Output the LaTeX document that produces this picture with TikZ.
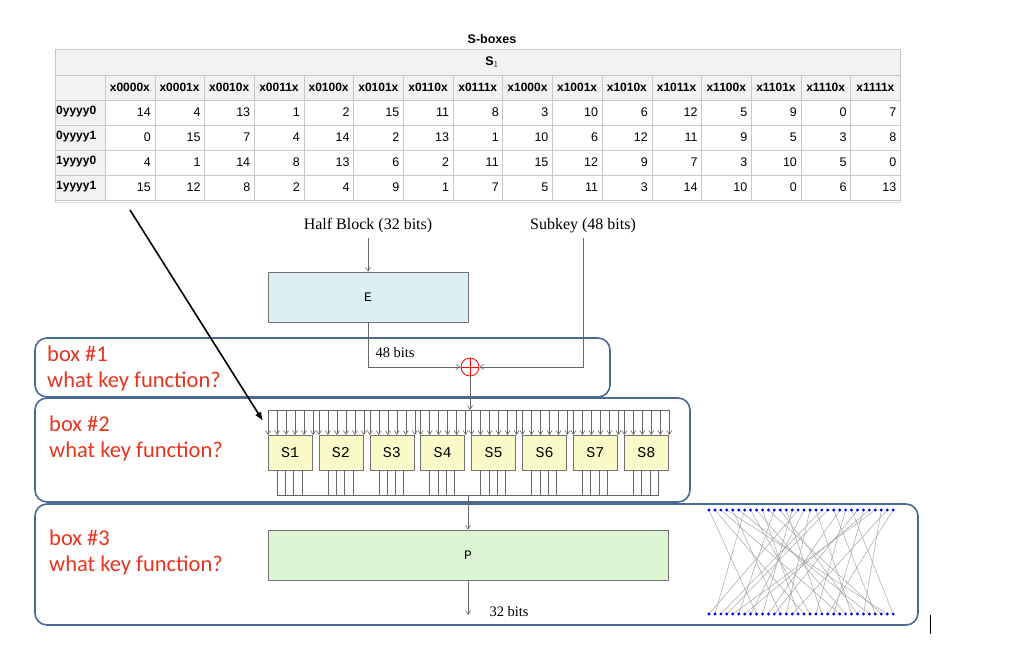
\documentclass[tikz,border=0pt]{standalone}
\usepackage{fontspec}
\setmainfont{Liberation Serif}
\newfontfamily\tabfont{Liberation Sans}
\newfontfamily\calfont{Carlito}
\newfontfamily\sbmono{Liberation Mono}
\usetikzlibrary{arrows.meta}
\definecolor{frame}{HTML}{4A6A95}
\definecolor{grid}{HTML}{C8C8C8}
\definecolor{hdr}{HTML}{F2F2F2}
\definecolor{ebox}{HTML}{DCEFF5}
\definecolor{sbox}{HTML}{FAFAC8}
\definecolor{pbox}{HTML}{DCF5D2}
\definecolor{redtxt}{HTML}{E8331E}
\tikzset{
  group/.style={draw=frame,line width=1.6pt,rounded corners=12pt},
  q/.style={font=\calfont\fontsize{22.5}{24}\selectfont,text=redtxt,anchor=west,inner sep=0},
  cell/.style={font=\tabfont\fontsize{12.5}{13}\selectfont,inner sep=2pt},
  hcell/.style={cell,font=\tabfont\bfseries\fontsize{12}{13}\selectfont},
  wire/.style={draw=black!60,line width=0.6pt},
  arr/.style={wire,-{Straight Barb[length=4pt,width=5pt]}},
  blk/.style={draw=black!55,line width=0.6pt},
  lbl/.style={font=\fontsize{16}{18}\selectfont},
}
\begin{document}
\begin{tikzpicture}[x=1pt,y=-1pt]
\useasboundingbox (0,0) rectangle (1024,660);
% table
\node[hcell,font=\tabfont\bfseries\fontsize{12.5}{13}\selectfont] (title) at (492,39) {S-boxes};
\fill[hdr] (55,49) rectangle (900,100);
\fill[hdr] (55,100) rectangle (105,200);
\draw[grid] (55,49) rectangle (900,75);
\node[hcell,font=\tabfont\bfseries\fontsize{12.5}{13}\selectfont] (s1) at (492,62) {S$_1$};
\foreach \i in {0,...,5} \draw[grid] (55,{75+25*\i}) -- (900,{75+25*\i});
\draw[grid] (55,75) -- (55,202);
\draw[grid!60] (55,202) -- (900,202);
\foreach \c in {0,...,16} \draw[grid] ({105+49.7*\c},75) -- ({105+49.7*\c},200);
\draw[grid] (900,49) -- (900,202);
\foreach \h [count=\c from 0] in {x0000x,x0001x,x0010x,x0011x,x0100x,x0101x,x0110x,x0111x,x1000x,x1001x,x1010x,x1011x,x1100x,x1101x,x1110x,x1111x}
  \node[hcell] (h\c) at ({105+49.7*\c+24.85},87) {\h};
\foreach \r/\lab/\vals in {0/0yyyy0/{14,4,13,1,2,15,11,8,3,10,6,12,5,9,0,7},1/0yyyy1/{0,15,7,4,14,2,13,1,10,6,12,11,9,5,3,8},2/1yyyy0/{4,1,14,8,13,6,2,11,15,12,9,7,3,10,5,0},3/1yyyy1/{15,12,8,2,4,9,1,7,5,11,3,14,10,0,6,13}}{
  \node[hcell,anchor=west,inner sep=1pt] (r\r) at (55,{112+25*\r}) {\lab};
  \foreach \v [count=\c from 0] in \vals
    \node[cell,anchor=east] (v\r-\c) at ({105+49.7*\c+48},{112+25*\r}) {\v};
}
% group boxes
\draw[group] (35,338) rectangle (610,397);
\draw[group] (35,398) rectangle (690,502);
\draw[group] (35,504) rectangle (918,625);
\node[q] (b1) at (47,354) {box \#1};
\node[q] (b1q) at (47,381) {what key function?};
\node[q] (b2) at (49,424) {box \#2};
\node[q] (b2q) at (49,451) {what key function?};
\node[q] (b3) at (49,538) {box \#3};
\node[q] (b3q) at (49,565) {what key function?};
% feistel
\node[lbl] (hb) at (368,226) {Half Block (32 bits)};
\node[lbl] (sk) at (583,226) {Subkey (48 bits)};
\node[blk,fill=ebox,minimum width=200pt,minimum height=50pt,font=\sbmono\fontsize{13}{14}\selectfont] (E) at (368,297) {E};
\draw[arr] (368,238) -- (E.north);
\node[draw=red,line width=0.8pt,circle,minimum size=18pt,inner sep=0] (x) at (470,367) {};
\draw[red,line width=0.8pt] (x.north) -- (x.south) (x.west) -- (x.east);
\draw[arr] (E.south) |- (x.west);
\node[lbl,anchor=west,font=\fontsize{14.5}{16}\selectfont] (b48) at (372,353) {48 bits};
\draw[arr] (583,238) |- (x.east);
\coordinate (bus) at (470,410);
\draw[arr] (x.south) -- (bus);
\draw[wire] (268,410) -- (670,410);
\foreach \i in {1,...,8}{
  \node[blk,fill=sbox,minimum width=44pt,minimum height=35pt,font=\sbmono\fontsize{15}{16}\selectfont] (S\i) at ({290+50.9*(\i-1)},452.5) {S\i};
  \foreach \k in {0,...,5}
    \draw[arr] ({268+50.9*(\i-1)+9*\k},410) -- ({268+50.9*(\i-1)+9*\k},435);
  \foreach \k in {0,...,3}
    \draw[wire] ({277+50.9*(\i-1)+8.3*\k},470) -- ({277+50.9*(\i-1)+8.3*\k},495);
}
\draw[wire] (277,495) -- (659,495);
\node[blk,fill=pbox,minimum width=400pt,minimum height=50pt,font=\sbmono\fontsize{13}{14}\selectfont] (P) at (468,555) {P};
\draw[arr] (468,495) -- (P.north);
\coordinate (out) at (468,615);
\draw[arr] (P.south) -- (out);
\node[lbl,anchor=west,font=\fontsize{14.5}{16}\selectfont] (b32) at (486,612) {32 bits};
% pointer arrow
\coordinate (pa) at (130,210);
\draw[line width=1.6pt,-{Latex[length=9pt,width=7pt]}] (pa) -- (263,421);
% permutation
\foreach \t [count=\i from 1] in {16,7,20,21,29,12,28,17,1,15,23,26,5,18,31,10,2,8,24,14,32,27,3,9,19,13,30,6,22,11,4,25}
  \draw[black!35,line width=0.5pt] ({709+5.94*(\t-1)},510) -- ({709+5.94*(\i-1)},614);
\foreach \i in {0,...,31}{
  \fill[blue] ({709+5.94*\i},510) circle (1.6pt);
  \fill[blue] ({709+5.94*\i},614) circle (1.6pt);
}
\draw[line width=1pt] (930,615) -- (930,634);
\end{tikzpicture}
\end{document}
